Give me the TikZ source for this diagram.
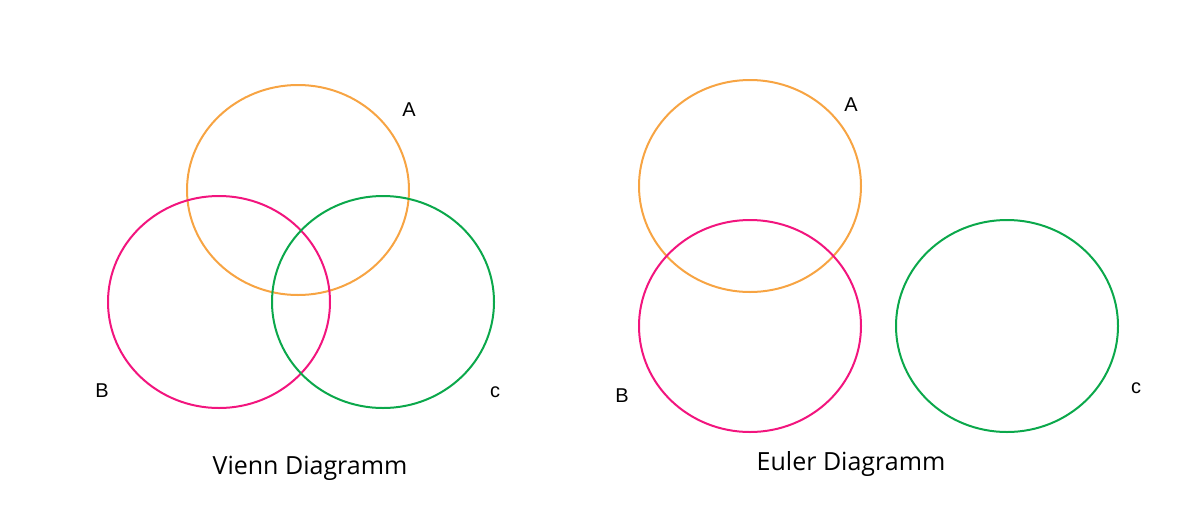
\documentclass[tikz,border=0pt]{standalone}
\usepackage{fontspec}
\setmainfont{Open Sans}
\newfontfamily\lblfont{Liberation Sans}
\definecolor{corange}{HTML}{F7A443}
\definecolor{cpink}{HTML}{F2157E}
\definecolor{cgreen}{HTML}{0BA84B}
\begin{document}
\begin{tikzpicture}[x=1pt,y=-1pt,
  setring/.style={line width=2pt},
  setlbl/.style={font=\lblfont\fontsize{20}{20}\selectfont,inner sep=0pt},
  title/.style={font=\fontsize{25}{25}\selectfont,inner sep=0pt}]
\useasboundingbox (0,0) rectangle (1204,509);
% Vienn
\draw[setring,corange] (298,190) ellipse [x radius=111, y radius=105];
\draw[setring,cpink] (219,302) ellipse [x radius=111, y radius=106];
\draw[setring,cgreen] (383,302) ellipse [x radius=111, y radius=106];
\node[setlbl] (va) at (409,110) {A};
\node[setlbl] (vb) at (102,391) {B};
\node[setlbl] (vc) at (495,392) {c};
\node[title] (vt) at (310,468) {Vienn Diagramm};
% Euler
\draw[setring,corange] (750,186) ellipse [x radius=111, y radius=106];
\draw[setring,cpink] (750,326) ellipse [x radius=111, y radius=106];
\draw[setring,cgreen] (1007,326) ellipse [x radius=111, y radius=106];
\node[setlbl] (ea) at (851,105) {A};
\node[setlbl] (eb) at (622,396) {B};
\node[setlbl] (ec) at (1136,388) {c};
\node[title] (et) at (851,464) {Euler Diagramm};
\end{tikzpicture}
\end{document}
